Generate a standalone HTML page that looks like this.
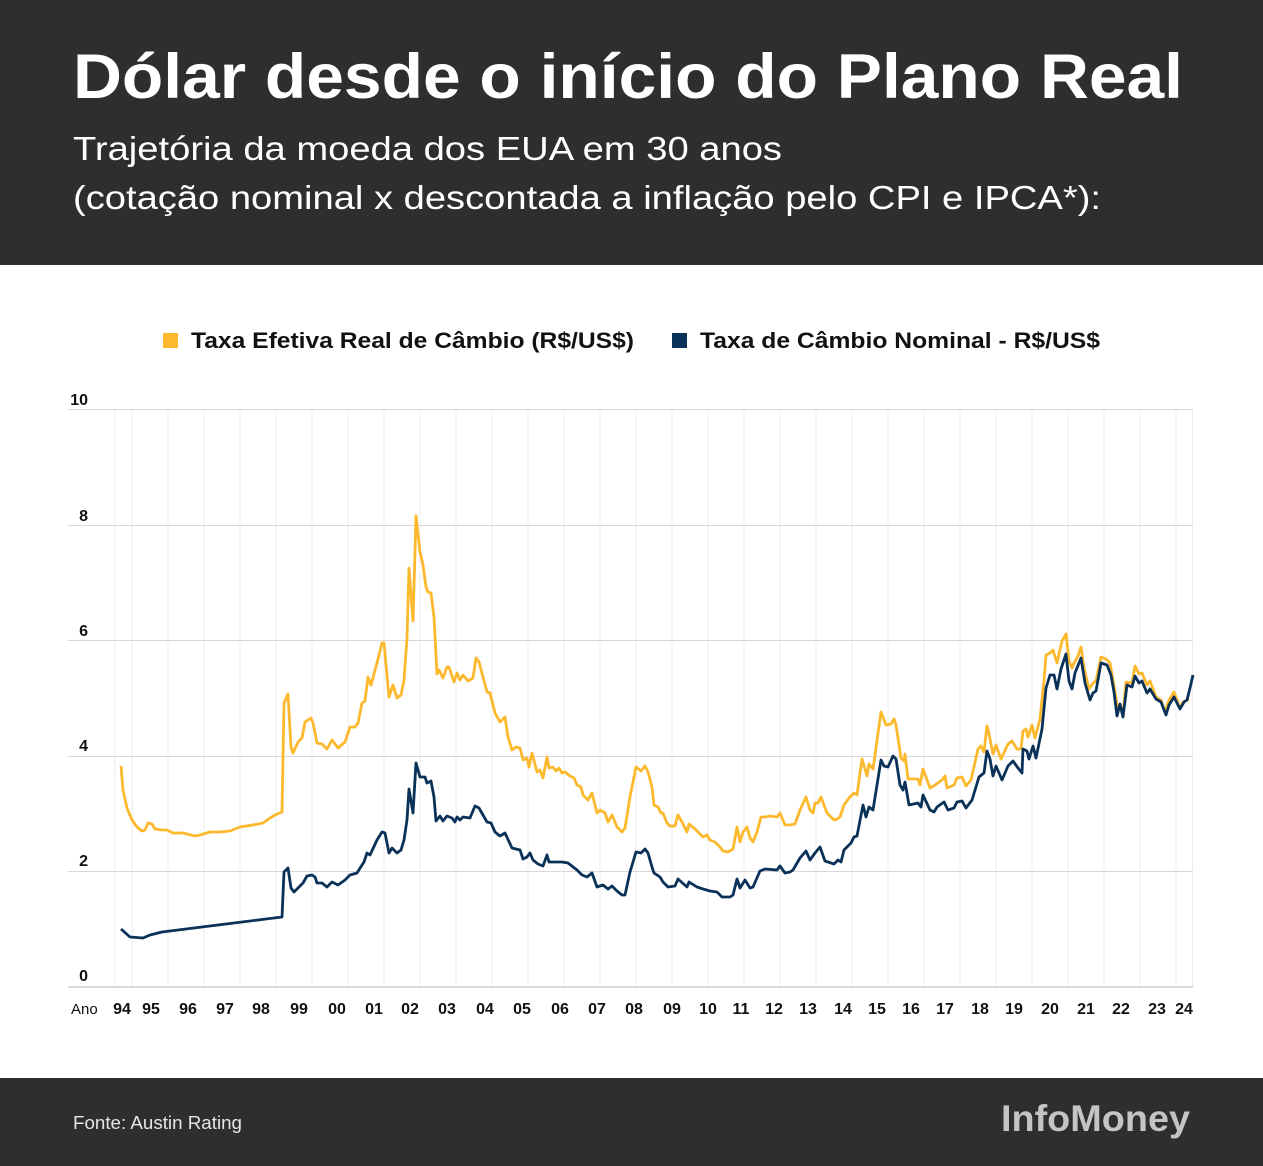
<!DOCTYPE html>
<html><head><meta charset="utf-8"><style>html,body{margin:0;padding:0;background:#fff}svg{display:block}</style></head>
<body>
<svg width="1263" height="1166" viewBox="0 0 1263 1166" xmlns="http://www.w3.org/2000/svg" font-family="Liberation Sans, DejaVu Sans, sans-serif">
<rect x="0" y="0" width="1263" height="265" fill="#2e2e2e"/>
<text x="73" y="98" font-size="63" font-weight="bold" fill="#fff" textLength="1110" lengthAdjust="spacingAndGlyphs">Dólar desde o início do Plano Real</text>
<text x="73" y="160" font-size="33" fill="#fff" textLength="709" lengthAdjust="spacingAndGlyphs">Trajetória da moeda dos EUA em 30 anos</text>
<text x="73" y="209" font-size="33" fill="#fff" textLength="1028" lengthAdjust="spacingAndGlyphs">(cotação nominal x descontada a inflação pelo CPI e IPCA*):</text>

<rect x="163" y="333" width="15" height="15" fill="#fdb92e"/>
<text x="191" y="348" font-size="22" font-weight="bold" fill="#111" textLength="443" lengthAdjust="spacingAndGlyphs">Taxa Efetiva Real de Câmbio (R$/US$)</text>
<rect x="672" y="333" width="15" height="15" fill="#0a3158"/>
<text x="700" y="348" font-size="22" font-weight="bold" fill="#111" textLength="400" lengthAdjust="spacingAndGlyphs">Taxa de Câmbio Nominal - R$/US$</text>

<g stroke="#ececec" stroke-width="1">
<line x1="114.7" y1="409" x2="114.7" y2="987"/>
<line x1="132.3" y1="409" x2="132.3" y2="987"/>
<line x1="168" y1="409" x2="168" y2="987"/><line x1="204" y1="409" x2="204" y2="987"/><line x1="240" y1="409" x2="240" y2="987"/><line x1="276" y1="409" x2="276" y2="987"/><line x1="312" y1="409" x2="312" y2="987"/><line x1="348" y1="409" x2="348" y2="987"/><line x1="384" y1="409" x2="384" y2="987"/><line x1="420" y1="409" x2="420" y2="987"/><line x1="456" y1="409" x2="456" y2="987"/><line x1="492" y1="409" x2="492" y2="987"/><line x1="528" y1="409" x2="528" y2="987"/><line x1="564" y1="409" x2="564" y2="987"/><line x1="600" y1="409" x2="600" y2="987"/><line x1="636" y1="409" x2="636" y2="987"/><line x1="672" y1="409" x2="672" y2="987"/><line x1="708" y1="409" x2="708" y2="987"/><line x1="744" y1="409" x2="744" y2="987"/><line x1="780" y1="409" x2="780" y2="987"/><line x1="816" y1="409" x2="816" y2="987"/><line x1="852" y1="409" x2="852" y2="987"/><line x1="888" y1="409" x2="888" y2="987"/><line x1="924" y1="409" x2="924" y2="987"/><line x1="960" y1="409" x2="960" y2="987"/><line x1="996" y1="409" x2="996" y2="987"/><line x1="1032" y1="409" x2="1032" y2="987"/><line x1="1068" y1="409" x2="1068" y2="987"/><line x1="1104" y1="409" x2="1104" y2="987"/><line x1="1140" y1="409" x2="1140" y2="987"/><line x1="1176" y1="409" x2="1176" y2="987"/><line x1="1192.5" y1="409" x2="1192.5" y2="987"/>
</g>
<g stroke="#d8d8d8" stroke-width="1">
<line x1="68" y1="409.5" x2="1193" y2="409.5"/><line x1="68" y1="525.5" x2="1193" y2="525.5"/><line x1="68" y1="640.5" x2="1193" y2="640.5"/><line x1="68" y1="756.5" x2="1193" y2="756.5"/><line x1="68" y1="871.5" x2="1193" y2="871.5"/>
</g>
<line x1="68" y1="987" x2="1193" y2="987" stroke="#cfcfcf" stroke-width="1.5"/>
<g font-size="16" font-weight="bold" fill="#111" text-anchor="end">
<text x="88" y="405">10</text><text x="88" y="521">8</text><text x="88" y="636">6</text><text x="88" y="751">4</text><text x="88" y="866">2</text><text x="88" y="981">0</text>
</g>
<text x="71" y="1014" font-size="15" fill="#111">Ano</text>
<g font-size="16" font-weight="bold" fill="#111" text-anchor="middle">
<text x="122" y="1014">94</text><text x="151" y="1014">95</text><text x="188" y="1014">96</text><text x="225" y="1014">97</text><text x="261" y="1014">98</text><text x="299" y="1014">99</text><text x="337" y="1014">00</text><text x="374" y="1014">01</text><text x="410" y="1014">02</text><text x="447" y="1014">03</text><text x="485" y="1014">04</text><text x="522" y="1014">05</text><text x="560" y="1014">06</text><text x="597" y="1014">07</text><text x="634" y="1014">08</text><text x="672" y="1014">09</text><text x="708" y="1014">10</text><text x="741" y="1014">11</text><text x="774" y="1014">12</text><text x="808" y="1014">13</text><text x="843" y="1014">14</text><text x="877" y="1014">15</text><text x="911" y="1014">16</text><text x="945" y="1014">17</text><text x="980" y="1014">18</text><text x="1014" y="1014">19</text><text x="1050" y="1014">20</text><text x="1086" y="1014">21</text><text x="1121" y="1014">22</text><text x="1157" y="1014">23</text><text x="1184" y="1014">24</text>
</g>

<polyline fill="none" stroke="#fdb92e" stroke-width="2.8" stroke-linejoin="round" points="121,766 123,790 127,808 132,820 137,827 142,831 145,830 148,823 152,824 155,829 162,830 167,830 173,833 183,833 195,836 200,835 210,832 220,832 230,831 240,827 253,825 263,823 270,818 275,815 282,812 284,703 288,694 291,747 293,753 298,742 302,738 305,722 311,718 313,723 317,743 322,744 327,749 332,740 338,748 345,742 350,727 355,727 358,723 362,703 365,701 368,677 371,685 377,663 382,643 384,643 389,697 393,685 397,698 401,695 404,680 407,638 409,568 413,621 416,516 420,552 423,565 426,587 428,592 431,593 434,617 437,674 439,670 443,678 447,667 449,667 454,682 457,673 460,680 463,675 468,681 473,678 476,658 479,662 483,677 487,692 490,693 495,713 500,722 505,717 508,737 512,750 516,747 520,748 523,760 527,758 529,767 532,753 537,772 540,770 543,778 547,757 549,768 553,767 556,771 559,768 562,773 565,772 570,776 574,778 577,785 581,787 583,795 588,800 592,793 597,813 600,810 605,813 608,822 612,815 617,827 622,832 625,828 630,797 636,767 641,771 645,766 648,772 652,787 654,805 658,807 661,813 663,813 667,823 670,826 675,826 678,815 682,822 687,832 689,824 695,829 699,833 703,837 707,835 710,840 715,842 720,847 723,851 728,852 733,849 737,827 740,842 743,832 747,827 750,838 753,842 757,832 761,817 765,817 770,816 777,817 780,813 785,825 790,825 795,824 800,810 806,797 810,810 813,813 815,803 818,803 821,797 827,813 834,820 837,819 840,817 844,805 849,798 854,793 857,795 862,759 867,776 869,764 873,769 881,712 886,725 891,724 894,719 896,725 901,758 904,761 905,754 908,779 918,779 920,785 923,769 930,788 935,785 942,780 945,776 947,788 954,785 957,778 962,777 966,786 971,780 978,749 981,746 984,752 987,726 989,734 993,754 996,745 1001,759 1008,744 1012,741 1017,749 1021,749 1023,731 1026,729 1028,737 1032,725 1035,738 1040,719 1044,680 1046,655 1050,653 1053,650 1057,663 1059,654 1062,641 1066,634 1069,661 1072,668 1074,663 1078,656 1081,647 1084,668 1089,689 1093,683 1096,681 1101,657 1106,659 1110,663 1114,686 1118,710 1120,705 1123,715 1126,682 1132,683 1135,666 1139,674 1142,673 1147,685 1150,681 1156,697 1161,700 1165,712 1169,700 1174,692 1180,708 1183,702 1189,699"/>

<polyline fill="none" stroke="#0a3158" stroke-width="2.8" stroke-linejoin="round" points="121,929 130,937 143,938 150,935 162,932 282,917 284,872 288,868 291,888 294,892 299,887 303,883 307,876 312,875 315,877 317,883 322,883 327,887 332,882 338,885 345,880 350,875 357,873 362,865 364,862 367,853 370,855 377,840 382,832 385,833 389,853 392,848 397,853 401,850 404,840 407,820 409,789 413,813 416,763 420,777 425,777 427,783 431,781 434,797 436,821 440,816 443,821 447,816 452,818 455,822 457,817 460,820 463,817 470,818 475,806 479,808 487,822 491,823 495,832 500,836 505,833 512,848 516,849 520,850 523,859 527,857 530,853 533,860 538,864 543,866 547,855 549,862 556,862 562,862 568,863 577,870 582,875 587,877 592,873 597,887 603,885 608,889 612,886 617,891 622,895 625,895 630,872 636,852 641,853 645,849 648,853 652,867 654,873 660,877 663,882 668,887 675,886 678,879 687,887 689,882 697,887 703,889 710,891 717,892 722,897 730,897 733,895 737,879 740,888 745,880 750,888 753,887 760,871 765,869 777,870 780,866 785,873 790,872 793,870 800,858 806,851 810,860 815,853 820,847 825,861 834,864 838,860 841,862 844,850 851,843 854,837 857,836 863,805 866,817 869,807 873,810 881,760 884,766 888,767 893,756 896,759 900,785 903,790 905,782 909,805 918,803 921,807 923,795 930,810 934,812 937,807 944,802 948,810 954,808 957,802 962,801 966,808 972,800 979,777 984,773 987,751 990,759 993,776 996,766 1002,780 1008,766 1013,761 1018,768 1022,773 1023,749 1027,751 1029,759 1033,746 1036,758 1042,729 1046,688 1050,675 1054,675 1057,689 1061,669 1066,654 1069,681 1072,689 1075,673 1081,658 1085,683 1090,700 1093,693 1096,691 1101,663 1107,665 1111,675 1114,692 1117,716 1120,704 1123,717 1127,685 1132,687 1135,676 1139,683 1142,681 1147,693 1150,689 1156,699 1161,702 1166,715 1169,705 1174,697 1180,709 1184,702 1187,700 1190,688 1193,675"/>

<rect x="0" y="1078" width="1263" height="88" fill="#2e2e2e"/>
<text x="73" y="1129" font-size="18" fill="#e6e6e6" textLength="169" lengthAdjust="spacingAndGlyphs">Fonte: Austin Rating</text>
<text x="1001" y="1131" font-size="37" font-weight="bold" fill="#c4c4c4" textLength="189" lengthAdjust="spacingAndGlyphs">InfoMoney</text>
</svg>
</body></html>
